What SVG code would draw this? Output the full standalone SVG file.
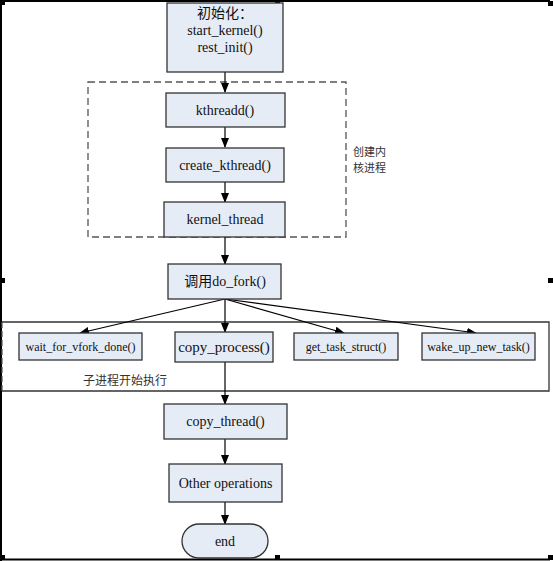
<svg xmlns="http://www.w3.org/2000/svg" width="553" height="561" viewBox="0 0 553 561">
<style>
.n{fill:#e6ecf6;stroke:#333;stroke-width:1.3}
.t{font-family:"Liberation Serif","Noto Sans CJK SC",serif;font-size:14px;fill:#111;text-anchor:middle}
.s{font-size:12px}
.c{stroke:#000;stroke-width:1.2;fill:none;marker-end:url(#a)}
.h{fill:#000}
.lab{font-family:"Noto Sans CJK SC","Liberation Sans",sans-serif;font-size:11px;fill:#333}
</style>
<defs>
<marker id="a" markerWidth="10" markerHeight="8" refX="9" refY="4" orient="auto" markerUnits="userSpaceOnUse">
<path d="M0,0 L10,4 L0,8 Z" fill="#000"/>
</marker>
</defs>
<rect width="553" height="561" fill="#fff"/>
<g id="frame">
<path d="M1,561 V1 H550 M0,559.5 H550" stroke="#000" stroke-width="2" fill="none"/>
<rect class="h" x="0" y="0" width="5" height="5"/>
<rect class="h" x="275" y="0" width="5" height="5"/>
<rect class="h" x="548" y="1" width="5" height="5"/>
<rect class="h" x="0" y="278" width="5" height="5"/>
<rect class="h" x="548" y="278" width="5" height="5"/>
<rect class="h" x="0" y="555" width="5" height="5"/>
<rect class="h" x="275" y="555" width="5" height="5"/>
<rect class="h" x="548" y="555" width="5" height="5"/>
</g>
<g id="group-kernel">
<rect x="88" y="82" width="258" height="155" fill="none" stroke="#555" stroke-width="1.3" stroke-dasharray="7,4"/>
<text class="lab" x="353" y="156">创建内</text>
<text class="lab" x="353" y="172">核进程</text>
</g>
<g id="group-child">
<path d="M2,322 H549 V391 H2" fill="none" stroke="#333" stroke-width="1.3"/>
<path d="M2,322 V391" fill="none" stroke="#555" stroke-width="1.2" stroke-dasharray="6,3"/>
<text class="lab" x="83" y="385" style="font-size:12px">子进程开始执行</text>
</g>
<g id="connectors">
<line class="c" x1="225" y1="72" x2="225" y2="92"/>
<line class="c" x1="225" y1="127" x2="225" y2="147"/>
<line class="c" x1="225" y1="182" x2="225" y2="202"/>
<line class="c" x1="225" y1="237" x2="225" y2="264"/>
<line class="c" x1="225" y1="299" x2="80" y2="333"/>
<line class="c" x1="225" y1="299" x2="225" y2="332"/>
<line class="c" x1="225" y1="299" x2="344" y2="333"/>
<line class="c" x1="225" y1="299" x2="476" y2="333"/>
<line class="c" x1="225" y1="362" x2="225" y2="404"/>
<line class="c" x1="225" y1="439" x2="225" y2="464"/>
<line class="c" x1="225" y1="502" x2="225" y2="524"/>
</g>
<g id="init">
<rect class="n" x="167" y="3" width="116" height="69"/>
<text class="t" x="225" y="18">初始化：</text>
<text class="t" x="225" y="35">start_kernel()</text>
<text class="t" x="225" y="52">rest_init()</text>
</g>
<g id="kthreadd">
<rect class="n" x="166" y="93" width="119" height="34"/>
<text class="t" x="225" y="115">kthreadd()</text>
</g>
<g id="create_kthread">
<rect class="n" x="166" y="148" width="118" height="34"/>
<text class="t" x="225" y="170">create_kthread()</text>
</g>
<g id="kernel_thread">
<rect class="n" x="164" y="202" width="121" height="35"/>
<text class="t" x="225" y="224">kernel_thread</text>
</g>
<g id="do_fork">
<rect class="n" x="168" y="264" width="113" height="35"/>
<text class="t" x="225" y="286">调用do_fork()</text>
</g>
<g id="wait_for_vfork_done">
<rect class="n" x="19" y="333" width="123" height="27"/>
<text class="t s" x="80.5" y="351">wait_for_vfork_done()</text>
</g>
<g id="copy_process">
<rect class="n" x="175" y="332" width="98" height="30"/>
<text class="t" x="224" y="352" style="font-size:15px">copy_process()</text>
</g>
<g id="get_task_struct">
<rect class="n" x="294" y="333" width="104" height="27"/>
<text class="t s" x="346" y="351">get_task_struct()</text>
</g>
<g id="wake_up_new_task">
<rect class="n" x="422" y="333" width="113" height="27"/>
<text class="t s" x="478.5" y="351">wake_up_new_task()</text>
</g>
<g id="copy_thread">
<rect class="n" x="164" y="404" width="123" height="35"/>
<text class="t" x="225.5" y="426">copy_thread()</text>
</g>
<g id="other">
<rect class="n" x="169" y="464" width="113" height="38"/>
<text class="t" x="225.5" y="488">Other operations</text>
</g>
<g id="end">
<rect class="n" x="182" y="524" width="86" height="34" rx="17" ry="17"/>
<text class="t" x="225" y="546">end</text>
</g>
</svg>
